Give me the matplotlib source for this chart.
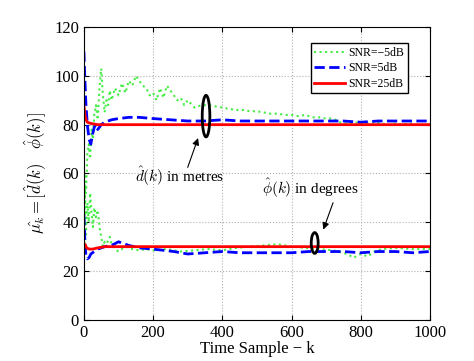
import matplotlib
matplotlib.use("Agg")
import matplotlib.pyplot as plt
from matplotlib.patches import Ellipse

plt.rcParams["font.family"] = ["Liberation Serif", "DejaVu Serif"]
plt.rcParams["mathtext.fontset"] = "cm"

# upper group: distance estimate d(k)
xg_up = [0, 3, 6, 10, 14, 18, 22, 26, 30, 35, 40, 45, 50, 55, 60, 65, 70, 75, 80, 90,
         100, 110, 120, 130, 140, 150, 160, 170, 180, 190, 200, 210, 220, 230, 240, 250,
         260, 270, 280, 290, 300, 320, 340, 360, 380, 400, 420, 440, 460, 480, 500, 520,
         540, 560, 580, 600, 620, 640, 660, 680, 700, 720, 740, 760, 780, 800, 820, 840,
         860, 880, 900, 920, 940, 960, 980, 1000]
yg_up = [45, 60, 52, 68, 72, 66, 78, 74, 84, 88, 82, 95, 103, 92, 85, 90, 88, 94, 90, 95,
         92, 97, 93, 98, 96, 100, 98, 96, 95, 92, 93, 90, 95, 91, 96, 94,
         92, 90, 91, 88, 90, 87, 88, 88, 87.5, 87, 86.5, 86, 86, 85.5, 85.5, 85,
         84.5, 84.5, 84, 84, 83.5, 84, 83, 83, 82.5, 82.5, 81, 80.5, 81, 80.5, 80.5, 81,
         80.5, 80, 80.5, 80, 80.5, 80, 80, 80]

xb_up = [0, 3, 6, 10, 15, 20, 25, 30, 35, 40, 50, 60, 80, 100, 130, 160, 200, 250,
         300, 350, 400, 450, 500, 550, 600, 650, 700, 750, 800, 850, 900, 950, 1000]
yb_up = [110, 98, 88, 80, 74, 72, 76, 79, 80, 78, 80, 81, 82, 82.5, 83, 83, 82.5, 82,
         81.5, 81.5, 82, 81.5, 81.5, 81.5, 81.5, 81.5, 81.5, 81.5, 81, 81.5, 81.5, 81.5, 81.5]

xr_up = [0, 3, 6, 10, 20, 40, 100, 200, 400, 600, 800, 1000]
yr_up = [88, 84, 82, 81, 80.5, 80, 80, 80, 80, 80, 80, 80]

# lower group: angle estimate phi(k)
xg_lo = [0, 3, 6, 10, 14, 18, 22, 26, 30, 35, 40, 45, 50, 55, 60, 65, 70, 75, 80, 90,
         100, 120, 140, 160, 180, 200, 240, 280, 320, 360, 400, 440, 480, 520, 560, 600,
         640, 680, 720, 760, 780, 800, 820, 840, 860, 900, 950, 1000]
yg_lo = [18, 55, 35, 48, 40, 52, 44, 38, 46, 42, 45, 38, 34, 30, 32, 30, 33, 34, 31, 29,
         28, 30, 29, 28.5, 29, 28.5, 29, 28, 28.5, 29, 28.5, 29.5, 30, 30.5, 31, 30,
         29.5, 29, 28.5, 27, 25.5, 27, 26, 28, 29, 29.5, 29, 29]

xb_lo = [0, 3, 6, 10, 15, 20, 30, 40, 50, 60, 80, 100, 130, 160, 200, 230, 260, 300,
         350, 400, 450, 500, 550, 600, 650, 700, 750, 800, 850, 900, 950, 1000]
yb_lo = [43, 32, 26, 25, 25.5, 27, 28, 29, 29.5, 30, 30.5, 32, 30.5, 29.5, 29, 28.5, 28, 27,
         27.5, 28, 27.5, 27.5, 27.5, 27.5, 28, 28, 28, 27.5, 28, 28, 27.5, 28]

xr_lo = [0, 3, 8, 15, 25, 40, 60, 100, 200, 400, 600, 800, 1000]
yr_lo = [30, 31, 29.5, 29, 29, 29.5, 30, 30, 30, 30, 30, 30, 30]

legend_labels = ["SNR=\u22125dB", "SNR=5dB", "SNR=25dB"]

fig = plt.figure(figsize=(4.74, 3.61), dpi=100)
ax = fig.add_axes([0.177, 0.114, 0.730, 0.811])

green = "#44ee44"
ax.plot(xg_up, yg_up, color=green, ls=":", lw=1.5, label=legend_labels[0])
ax.plot(xb_up, yb_up, color="#0000ff", ls="--", lw=2, label=legend_labels[1])
ax.plot(xr_up, yr_up, color="#ff0000", ls="-", lw=2, label=legend_labels[2])
ax.plot(xg_lo, yg_lo, color=green, ls=":", lw=1.5)
ax.plot(xb_lo, yb_lo, color="#0000ff", ls="--", lw=2)
ax.plot(xr_lo, yr_lo, color="#ff0000", ls="-", lw=2)

ax.add_patch(Ellipse((353, 83.5), 22, 17, fill=False, ec="black", lw=2, zorder=5))
ax.add_patch(Ellipse((667, 31.5), 20, 8.5, fill=False, ec="black", lw=2, zorder=5))

ax.text(278, 59, r"$\hat{d}(k)$ in metres", ha="center", va="center", fontsize=11)
ax.annotate("", xy=(330, 74.5), xytext=(300, 62.5),
            arrowprops=dict(arrowstyle="-|>", color="black", lw=0.8,
                            shrinkA=0, shrinkB=0, mutation_scale=10))
ax.text(655, 54, r"$\hat{\phi}(k)$ in degrees", ha="center", va="center", fontsize=11)
ax.annotate("", xy=(692, 37), xytext=(720, 48),
            arrowprops=dict(arrowstyle="-|>", color="black", lw=0.8,
                            shrinkA=0, shrinkB=0, mutation_scale=10))

ax.set_xlim(0, 1000)
ax.set_ylim(0, 120)
ax.set_xticks(range(0, 1001, 200))
ax.set_yticks(range(0, 121, 20))
ax.tick_params(direction="in", labelsize=12, top=True, right=True)
ax.grid(True, ls=":", color="#b0b0b0", lw=0.8)
ax.set_xlabel("Time Sample \u2212 k", fontsize=12, labelpad=0)
ax.set_ylabel(r"$\hat{\mu_k} = [\hat{d}(k)\quad\hat{\phi}(k)]$", fontsize=12, labelpad=4)

leg = ax.legend(loc="upper right", bbox_to_anchor=(0.936, 0.945), fontsize=8.5,
                fancybox=False, edgecolor="black", framealpha=1,
                handlelength=2.6, handletextpad=0.3, borderpad=0.3,
                labelspacing=0.3, borderaxespad=0)
leg.get_frame().set_linewidth(1.0)

fig.savefig("out.png", dpi=100)
